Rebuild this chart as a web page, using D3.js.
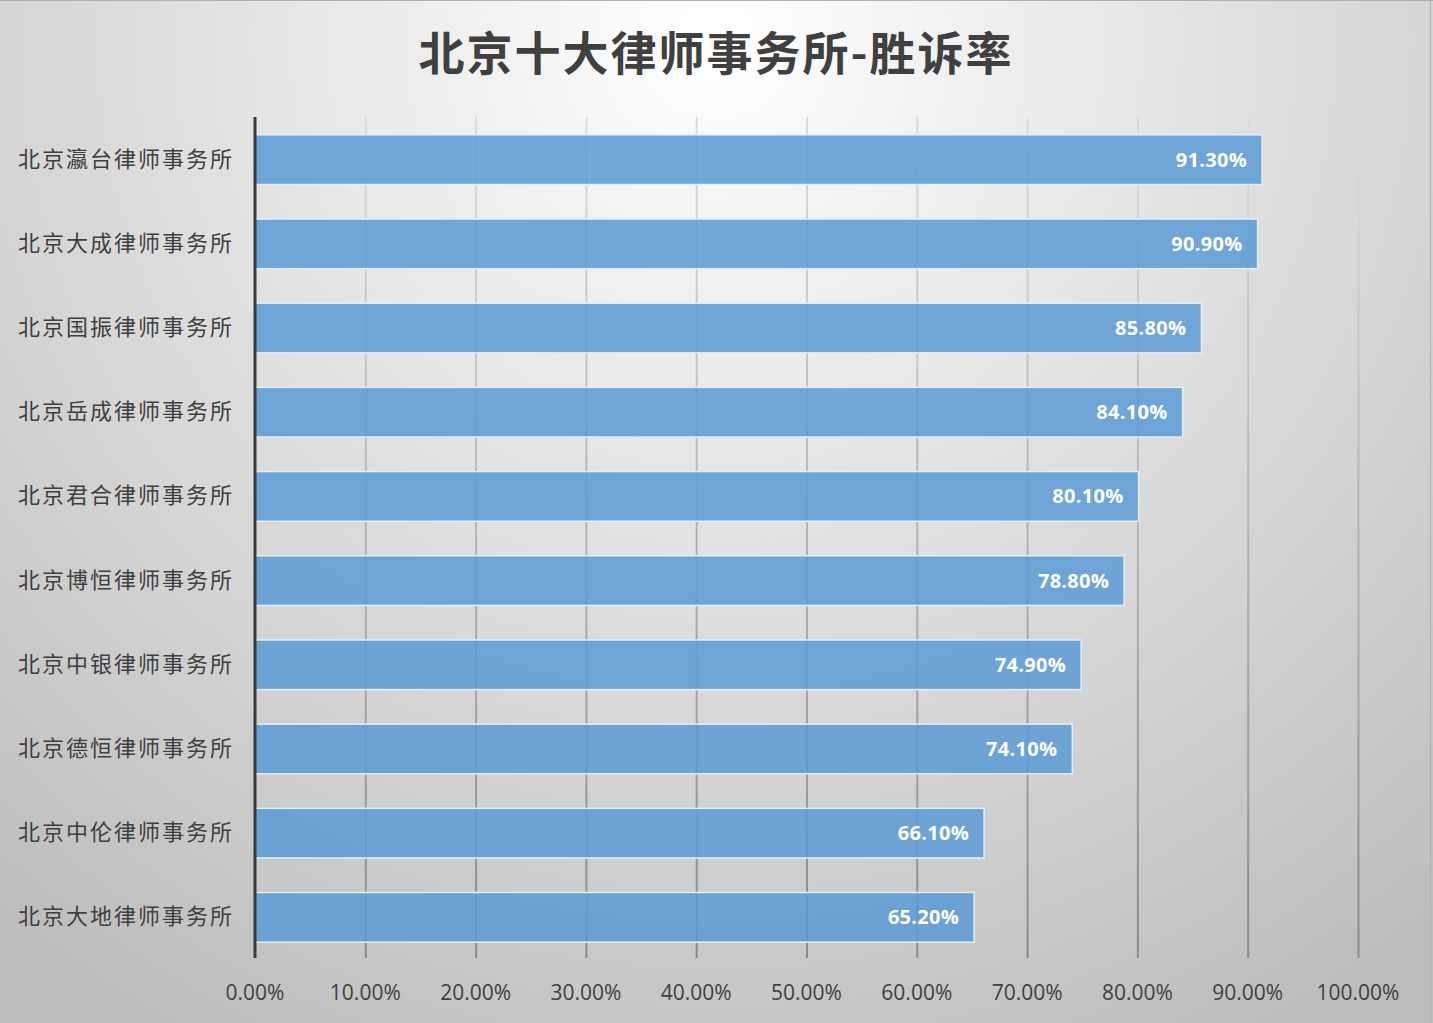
<!DOCTYPE html>
<html>
<head>
<meta charset="utf-8">
<script src="https://cdn.jsdelivr.net/npm/d3@7"></script>
<style>
    html, body { margin: 0; padding: 0; background: #ffffff; }
    svg { display: block; }
</style>
</head>
<body>
<div id="chart"></div>
<script>
// data, top to bottom
var firms = ['北京瀛台律师事务所', '北京大成律师事务所', '北京国振律师事务所', '北京岳成律师事务所',
    '北京君合律师事务所', '北京博恒律师事务所', '北京中银律师事务所', '北京德恒律师事务所',
    '北京中伦律师事务所', '北京大地律师事务所'];
var winRates = [0.913, 0.909, 0.858, 0.841, 0.801, 0.788, 0.749, 0.741, 0.661, 0.652];
var xTicks = [0, 0.1, 0.2, 0.3, 0.4, 0.5, 0.6, 0.7, 0.8, 0.9, 1.0];
var chartTitle = '北京十大律师事务所-胜诉率';

var width = 1433, height = 1023;
var margin = { l: 255, r: 75, t: 117, b: 65 };
var cjk = '"Noto Sans CJK SC", "Noto Sans", sans-serif';
var latin = '"Open Sans", "Noto Sans", sans-serif';

var svg = d3.select('#chart').append('svg')
    .attr('width', width)
    .attr('height', height);

var defs = svg.append('defs');
var bg = defs.append('radialGradient')
    .attr('id', 'bgGrad')
    .attr('gradientUnits', 'userSpaceOnUse')
    .attr('cx', 716).attr('cy', 40).attr('r', 1150);
bg.append('stop').attr('offset', '0%').attr('stop-color', '#ffffff');
bg.append('stop').attr('offset', '100%').attr('stop-color', '#bcbcbc');

var gridGrad = defs.append('linearGradient')
    .attr('id', 'gridGrad')
    .attr('gradientUnits', 'userSpaceOnUse')
    .attr('x1', 0).attr('y1', margin.t).attr('x2', 0).attr('y2', height - margin.b);
gridGrad.append('stop').attr('offset', '0%').attr('stop-color', '#dcdcdc');
gridGrad.append('stop').attr('offset', '100%').attr('stop-color', '#8a8a8a');

svg.append('rect')
    .attr('width', width).attr('height', height)
    .attr('fill', 'url(#bgGrad)');

// thin frame of the chart area
svg.append('line').attr('x1', 0).attr('x2', width).attr('y1', 0.5).attr('y2', 0.5)
    .attr('stroke', '#b0b0b0');
svg.append('line').attr('x1', 1430.5).attr('x2', 1430.5).attr('y1', 0).attr('y2', height)
    .attr('stroke', '#b0b0b0');

var x = d3.scaleLinear()
    .domain([0, 1])
    .range([margin.l, width - margin.r]);

var y = d3.scaleBand()
    .domain(firms)
    .range([margin.t, height - margin.b])
    .paddingInner(0.41)
    .paddingOuter(0.2);

// gridlines
svg.append('g').selectAll('line')
    .data(xTicks.slice(1))
    .join('line')
    .attr('x1', function (d) { return x(d) + 0.5; })
    .attr('x2', function (d) { return x(d) + 0.5; })
    .attr('y1', margin.t)
    .attr('y2', height - margin.b)
    .attr('stroke', 'url(#gridGrad)')
    .attr('stroke-width', 2);

// bars
svg.append('g').selectAll('rect')
    .data(winRates)
    .join('rect')
    .attr('x', x(0))
    .attr('y', function (d, i) { return y(firms[i]) + 1; })
    .attr('width', function (d) { return x(d) - x(0); })
    .attr('height', y.bandwidth())
    .attr('fill', '#5b9bd5')
    .attr('fill-opacity', 0.85)
    .attr('stroke', '#e4eef8')
    .attr('stroke-width', 1.5);

// value labels
svg.append('g').selectAll('text')
    .data(winRates)
    .join('text')
    .attr('x', function (d) { return x(d) - 15; })
    .attr('y', function (d, i) { return y(firms[i]) + y.bandwidth() / 2 + 8; })
    .attr('text-anchor', 'end')
    .attr('fill', '#ffffff')
    .style('font-family', latin)
    .style('font-weight', 'bold')
    .style('font-size', '20px')
    .style('letter-spacing', '0.3px')
    .text(function (d) { return (d * 100).toFixed(2) + '%'; });

// category axis line + labels
svg.append('line')
    .attr('x1', x(0)).attr('x2', x(0))
    .attr('y1', margin.t).attr('y2', height - margin.b)
    .attr('stroke', '#3a3a3a')
    .attr('stroke-width', 3);

svg.append('g').selectAll('text')
    .data(firms)
    .join('text')
    .attr('x', 234)
    .attr('y', function (d) { return y(d) + y.bandwidth() / 2 + 8; })
    .attr('text-anchor', 'end')
    .attr('fill', '#404040')
    .style('font-family', cjk)
    .style('font-size', '22px')
    .style('letter-spacing', '2px')
    .text(function (d) { return d; });

// value axis labels
svg.append('g').selectAll('text')
    .data(xTicks)
    .join('text')
    .attr('x', function (d) { return x(d); })
    .attr('y', 1000)
    .attr('text-anchor', 'middle')
    .attr('fill', '#404040')
    .style('font-family', latin)
    .style('font-size', '21px')
    .text(function (d) { return (d * 100).toFixed(2) + '%'; });

// title
svg.append('text')
    .attr('x', 716)
    .attr('y', 70)
    .attr('text-anchor', 'middle')
    .attr('fill', '#404040')
    .style('font-family', cjk)
    .style('font-weight', 'bold')
    .style('font-size', '46px')
    .style('letter-spacing', '2px')
    .text(chartTitle);
</script>
</body>
</html>
